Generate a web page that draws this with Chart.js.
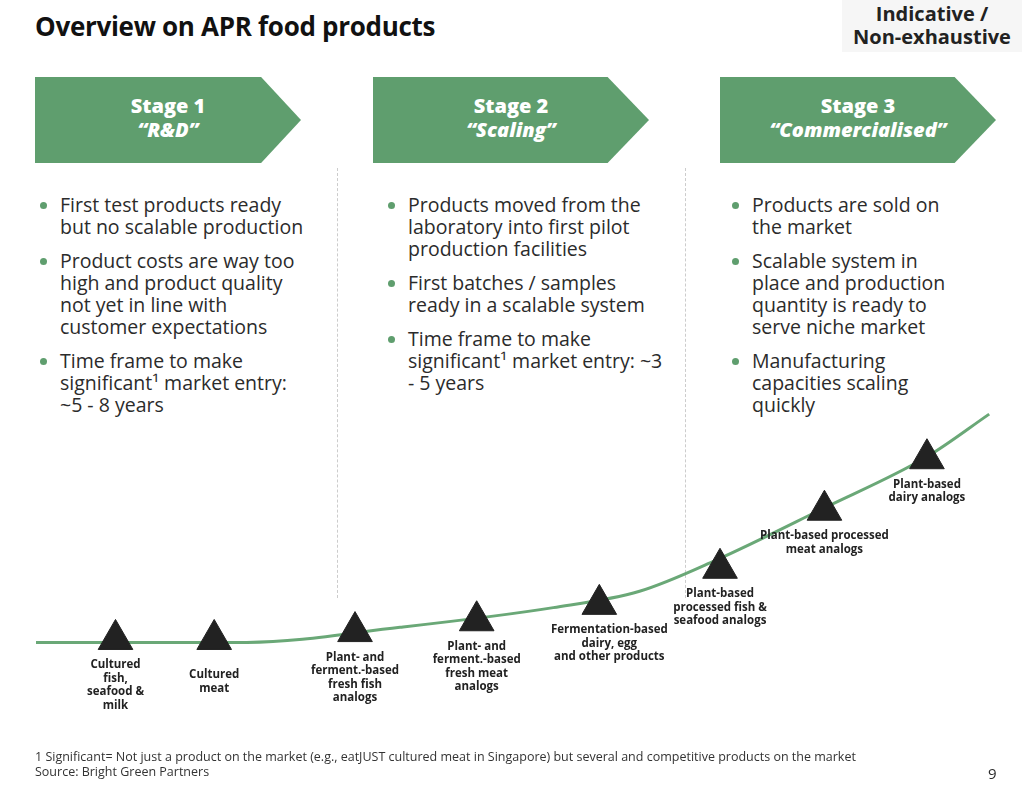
<!DOCTYPE html>
<html><head><meta charset="utf-8">
<script src="https://cdn.jsdelivr.net/npm/chart.js@4"></script>
<style>
body{margin:0;width:1024px;height:788px;background:#fff;font-family:"Open Sans",sans-serif;color:#2b2b2b;position:relative;overflow:hidden}
.abs{position:absolute}
#title{left:35px;top:8px;font-size:26px;font-weight:700;color:#111;letter-spacing:-0.3px}
#ind{left:842px;top:0;width:180px;height:50px;background:#f6f6f6;text-align:center;font-size:20px;font-weight:700;line-height:23px;color:#222;padding-top:2px}
.stage{height:86px;top:77px;background:#5f9e6e;color:#fff;text-align:center;font-weight:800;font-size:20px;line-height:24px;padding-top:17px;box-sizing:border-box;clip-path:polygon(0 0,85% 0,100% 50%,85% 100%,0 100%)}
.stage i{font-weight:800}
ul{margin:0;padding:0;list-style:none;font-size:19.5px;line-height:22px}
li{position:relative;padding-left:24px;margin-bottom:12px}
li:before{content:"";position:absolute;left:4px;top:8px;width:7px;height:7px;border-radius:50%;background:#5f9e6e}
.sep{top:168px;height:430px;border-left:1px dashed #ccc}
#foot{left:35px;top:749px;font-size:12.5px;line-height:15px;color:#333}
#chartbox{left:15px;top:380px;width:1000px;height:370px}
</style></head><body>
<div class="abs" id="title">Overview on APR food products</div>
<div class="abs" id="ind">Indicative /<br>Non-exhaustive</div>
<div class="abs stage" style="left:35px;width:266px">Stage 1<br><i>“R&amp;D”</i></div>
<div class="abs stage" style="left:373px;width:276px">Stage 2<br><i>“Scaling”</i></div>
<div class="abs stage" style="left:720px;width:276px">Stage 3<br><i>“Commercialised”</i></div>
<div class="abs sep" style="left:337px"></div>
<div class="abs sep" style="left:685px"></div>
<ul class="abs" style="left:36px;top:194px;width:276px">
<li>First test products ready but no scalable production</li>
<li>Product costs are way too high and product quality not yet in line with customer expectations</li>
<li>Time frame to make significant¹ market entry: ~5 - 8 years</li></ul>
<ul class="abs" style="left:384px;top:194px;width:285px">
<li>Products moved from the laboratory into first pilot production facilities</li>
<li>First batches / samples ready in a scalable system</li>
<li>Time frame to make significant¹ market entry: ~3 - 5 years</li></ul>
<ul class="abs" style="left:728px;top:194px;width:232px">
<li>Products are sold on the market</li>
<li>Scalable system in place and production quantity is ready to serve niche market</li>
<li>Manufacturing capacities scaling quickly</li></ul>
<div class="abs" id="chartbox"><canvas id="c"></canvas></div>
<div class="abs" id="foot">1 Significant= Not just a product on the market (e.g., eatJUST cultured meat in Singapore) but several and competitive products on the market<br>Source: Bright Green Partners</div>
<div class="abs" style="left:988px;top:763px;font-size:15px">9</div>
<script>
const curveX=[0,22,38,54,63,71,82,93,99.5];
const curveY=[26.4,26.4,31,37,42,51.5,67,83,96];
const productLabels=[["Cultured","fish,","seafood &","milk"],["Cultured","meat"],["Plant- and","ferment.-based","fresh fish","analogs"],["Plant- and","ferment.-based","fresh meat","analogs"],["Fermentation-based","dairy, egg","and other products"],["Plant-based","processed fish &","seafood analogs"],["Plant-based processed","meat analogs"],["Plant-based","dairy analogs"]];
const productX=[8.3,18.6,33.3,46,58.8,71.4,82.3,93];
const productY=[27.3,27.3,29.7,33,38,49,66.7,82.4];
const labelPlugin={id:'lbl',afterDatasetsDraw(ch){const m=ch.getDatasetMeta(1),ctx=ch.ctx;ctx.save();ctx.font='bold 11.5px "Open Sans"';ctx.fillStyle='#222';ctx.textAlign='center';ctx.textBaseline='top';
m.data.forEach((p,i)=>{const off=i===1?30:20;productLabels[i].forEach((t,j)=>ctx.fillText(t,p.x+(i===4?10:0),p.y+off+j*13.5));});ctx.restore();}};
new Chart(document.getElementById('c'),{type:'line',
data:{datasets:[
{data:curveX.map((x,i)=>({x,y:curveY[i]})),borderColor:'#6aa877',borderWidth:3,pointRadius:0,cubicInterpolationMode:'monotone',order:2},
{type:'scatter',data:productX.map((x,i)=>({x,y:productY[i]})),pointStyle:'triangle',pointRadius:20,backgroundColor:'#222',borderColor:'#222',order:1}]},
options:{responsive:true,maintainAspectRatio:false,animation:false,layout:{padding:0},
plugins:{legend:{display:false},tooltip:{enabled:false}},
scales:{x:{type:'linear',min:0,max:100,display:false},y:{min:0,max:100,display:false}}},
plugins:[labelPlugin]});
</script></body></html>
